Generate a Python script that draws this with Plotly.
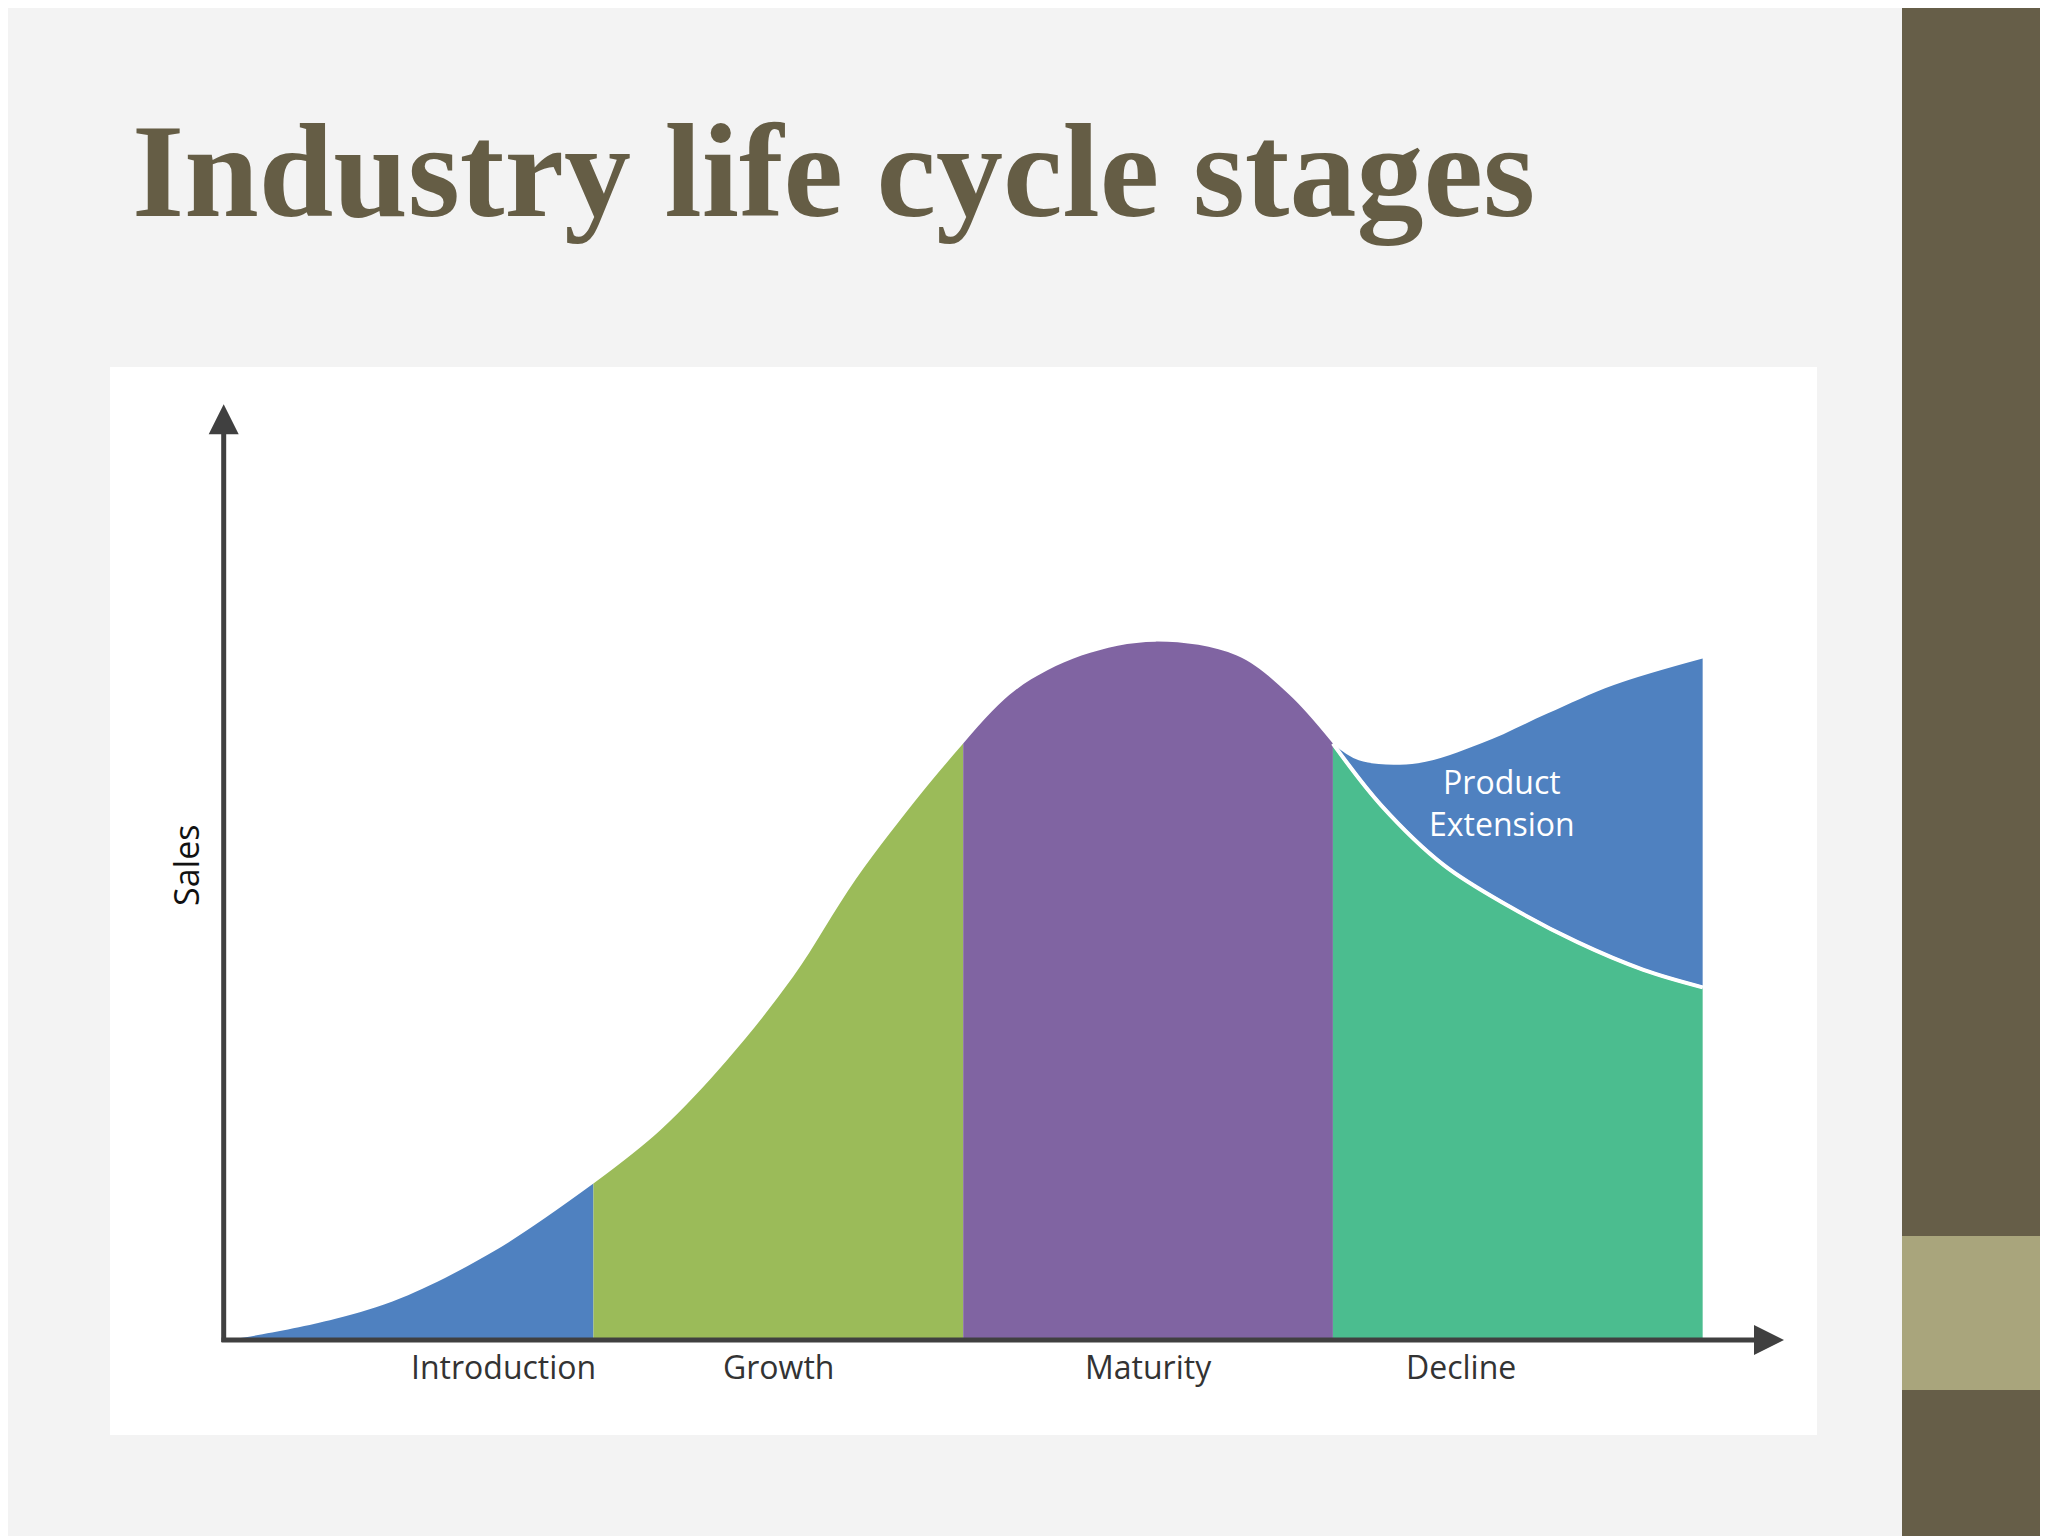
import plotly.graph_objects as go

# Stage names and colours
stages = ["Introduction", "Growth", "Maturity", "Decline"]
stage_colors = ["#4f81c0", "#9bbb59", "#8064a2", "#4bbd8f"]

# Sales curve, split by stage (sharing boundary points)
intro_x = [0.0, 0.06, 0.3, 0.48, 0.74, 1.0]
intro_y = [0.0, 0.4, 3, 6, 13, 22.4]
growth_x = [1.0, 1.18, 1.36, 1.54, 1.71, 1.89, 2.0]
growth_y = [22.4, 30, 40, 52, 66, 78.5, 85.4]
maturity_x = [2.0, 2.14, 2.32, 2.52, 2.74, 2.88, 3.0]
maturity_y = [85.4, 93, 98, 100, 98, 92.5, 85.4]
decline_x = [3.0, 3.13, 3.3, 3.48, 3.66, 3.84, 4.0]
decline_y = [85.4, 76.6, 68, 62, 57, 53, 50.5]
ext_x = [3.0, 3.07, 3.23, 3.4, 3.58, 3.76, 4.0]
ext_y = [85.4, 83, 82.6, 85.4, 89.7, 93.8, 97.6]

XR = [-0.01, 4.22]
YR = [0, 134.6]

fig = go.Figure()

segments = [(intro_x, intro_y), (growth_x, growth_y), (maturity_x, maturity_y), (decline_x, decline_y)]
for (xs, ys), col in zip(segments, stage_colors):
    fig.add_trace(go.Scatter(x=xs, y=ys, mode="lines", fill="tozeroy", fillcolor=col,
                             line=dict(color=col, width=0, shape="spline"), hoverinfo="skip"))

# Product extension band between decline curve and upper curve
fig.add_trace(go.Scatter(x=decline_x, y=decline_y, mode="lines",
                         line=dict(color="white", width=3, shape="spline"), hoverinfo="skip"))
fig.add_trace(go.Scatter(x=ext_x, y=ext_y, mode="lines", fill="tonexty", fillcolor="#4f81c0",
                         line=dict(color="#4f81c0", width=0, shape="spline"), hoverinfo="skip"))
fig.add_trace(go.Scatter(x=decline_x, y=decline_y, mode="lines",
                         line=dict(color="white", width=4, shape="spline"), hoverinfo="skip"))


def px(x):
    return (x - XR[0]) / (XR[1] - XR[0])


def py(y):
    return (y - YR[0]) / (YR[1] - YR[0])


axis_col = "#404040"
annotations = [
    dict(x=4.22, y=0, ax=-0.01, ay=0, xref="x", yref="y", axref="x", ayref="y", text="",
         showarrow=True, arrowhead=2, arrowsize=1.2, arrowwidth=5, arrowcolor=axis_col),
    dict(x=0, y=134, ax=0, ay=-0.5, xref="x", yref="y", axref="x", ayref="y", text="",
         showarrow=True, arrowhead=2, arrowsize=1.2, arrowwidth=5, arrowcolor=axis_col),
    dict(x=px(-0.17), y=py(68), xref="paper", yref="paper", text="Sales", textangle=-90, showarrow=False,
         font=dict(family="Open Sans", size=34, color="#111111")),
    dict(x=px(3.66), y=py(77), xref="paper", yref="paper", text="Product<br>Extension", showarrow=False,
         font=dict(family="Open Sans", size=32, color="white")),
]
for i, s in enumerate(stages):
    annotations.append(dict(x=px(i + 0.5), y=py(-7.1), xref="paper", yref="paper", text=s, showarrow=False,
                            font=dict(family="Open Sans", size=32, color="#333333")))

L, R, T, B = 212, 272, 392, 204
pw, ph = 2048 - L - R, 1536 - T - B


def fx(p):
    return (p - L) / pw


def fy(p):
    return (1536 - p - B) / ph


annotations.append(dict(x=fx(122), y=fy(240), xref="paper", yref="paper",
                        text="<b>Industry life cycle stages</b>", showarrow=False,
                        xanchor="left", yanchor="bottom",
                        font=dict(family="Liberation Serif", size=134, color="#655d45")))

shapes = [
    dict(type="rect", xref="paper", yref="paper", x0=fx(102), x1=fx(1809), y0=fy(1427), y1=fy(359),
         fillcolor="white", line=dict(width=0), layer="below"),
    dict(type="rect", xref="paper", yref="paper", x0=fx(1894), x1=fx(2048), y0=fy(1536), y1=fy(0),
         fillcolor="#665e48", line=dict(width=0)),
    dict(type="rect", xref="paper", yref="paper", x0=fx(1894), x1=fx(2048), y0=fy(1382), y1=fy(1228),
         fillcolor="#a9a57c", line=dict(width=0)),
]

fig.update_layout(
    width=2048, height=1536,
    margin=dict(l=L, r=R, t=T, b=B),
    paper_bgcolor="#f3f3f3", plot_bgcolor="rgba(0,0,0,0)",
    showlegend=False,
    xaxis=dict(range=XR, visible=False, fixedrange=True),
    yaxis=dict(range=YR, visible=False, fixedrange=True),
    shapes=shapes, annotations=annotations,
)

fig.write_html("out.html")
